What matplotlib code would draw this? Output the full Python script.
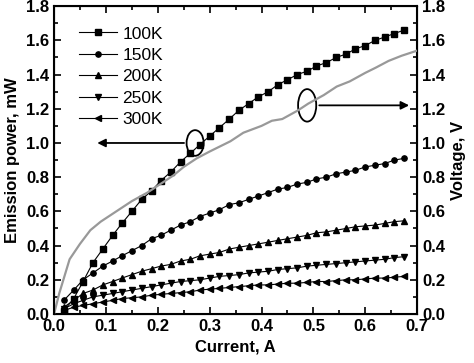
import matplotlib.pyplot as plt
from matplotlib.patches import Ellipse

plt.rcParams['font.family'] = ['Liberation Sans', 'DejaVu Sans']

current = [0.019, 0.038, 0.056, 0.075, 0.094, 0.113, 0.131, 0.150, 0.169, 0.188,
           0.206, 0.225, 0.244, 0.263, 0.281, 0.300, 0.319, 0.338, 0.356, 0.375,
           0.394, 0.413, 0.431, 0.450, 0.469, 0.488, 0.506, 0.525, 0.544, 0.563,
           0.581, 0.600, 0.619, 0.638, 0.656, 0.675]

p100 = [0.02, 0.09, 0.19, 0.30, 0.38, 0.46, 0.53, 0.60, 0.67, 0.72,
        0.78, 0.83, 0.89, 0.94, 0.99, 1.04, 1.09, 1.14, 1.19, 1.23,
        1.27, 1.30, 1.34, 1.37, 1.40, 1.42, 1.45, 1.47, 1.50, 1.52,
        1.55, 1.57, 1.60, 1.62, 1.64, 1.66]
p150 = [0.08, 0.14, 0.20, 0.24, 0.28, 0.31, 0.34, 0.37, 0.40, 0.44,
        0.46, 0.49, 0.52, 0.54, 0.57, 0.59, 0.61, 0.64, 0.65, 0.67,
        0.69, 0.71, 0.73, 0.74, 0.76, 0.77, 0.79, 0.80, 0.82, 0.83,
        0.84, 0.86, 0.87, 0.88, 0.90, 0.91]
p200 = [0.04, 0.08, 0.12, 0.14, 0.17, 0.19, 0.21, 0.23, 0.25, 0.265,
        0.28, 0.29, 0.31, 0.32, 0.34, 0.35, 0.36, 0.38, 0.39, 0.40,
        0.41, 0.42, 0.43, 0.44, 0.45, 0.46, 0.475, 0.48, 0.49, 0.50,
        0.51, 0.515, 0.52, 0.53, 0.54, 0.545]
p250 = [0.03, 0.06, 0.08, 0.10, 0.11, 0.12, 0.13, 0.14, 0.15, 0.16,
        0.17, 0.18, 0.19, 0.195, 0.20, 0.21, 0.22, 0.225, 0.23, 0.24,
        0.245, 0.25, 0.26, 0.265, 0.27, 0.28, 0.285, 0.29, 0.295, 0.30,
        0.305, 0.31, 0.315, 0.32, 0.33, 0.335]
p300 = [0.02, 0.04, 0.05, 0.06, 0.07, 0.08, 0.09, 0.095, 0.10, 0.11,
        0.115, 0.12, 0.125, 0.13, 0.14, 0.145, 0.15, 0.155, 0.16, 0.165,
        0.17, 0.17, 0.175, 0.18, 0.18, 0.185, 0.19, 0.19, 0.195, 0.20,
        0.20, 0.205, 0.21, 0.21, 0.215, 0.22]

current_v = [0.0, 0.01, 0.03, 0.05, 0.07, 0.09, 0.11, 0.13, 0.15, 0.18,
             0.20, 0.23, 0.25, 0.275, 0.30, 0.34, 0.365, 0.40, 0.42, 0.44,
             0.47, 0.49, 0.52, 0.545, 0.57, 0.60, 0.62, 0.645, 0.67, 0.70]
voltage = [0.0, 0.12, 0.32, 0.41, 0.49, 0.54, 0.58, 0.62, 0.66, 0.71,
           0.75, 0.81, 0.86, 0.91, 0.95, 1.01, 1.06, 1.10, 1.13, 1.14,
           1.19, 1.23, 1.28, 1.33, 1.36, 1.41, 1.44, 1.48, 1.51, 1.54]

labels = ['100K', '150K', '200K', '250K', '300K']
markers = ['s', 'o', '^', 'v', '<']

fig = plt.figure(figsize=(4.74, 3.63), dpi=100)
ax = fig.add_axes([0.114, 0.135, 0.766, 0.848])

for ys, m, lab in zip([p100, p150, p200, p250, p300], markers, labels):
    ax.plot(current, ys, color='black', marker=m, markersize=3.8, linewidth=0.8, label=lab)

ax.set_xlim(0, 0.7)
ax.set_ylim(0, 1.8)
ax.set_xticks([0, 0.1, 0.2, 0.3, 0.4, 0.5, 0.6, 0.7])
ax.set_yticks([0, 0.2, 0.4, 0.6, 0.8, 1.0, 1.2, 1.4, 1.6, 1.8])
ax.set_xticks([0.05, 0.15, 0.25, 0.35, 0.45, 0.55, 0.65], minor=True)
ax.set_yticks([0.1, 0.3, 0.5, 0.7, 0.9, 1.1, 1.3, 1.5, 1.7], minor=True)
ax.tick_params(which='both', direction='in', top=True, right=False, width=1.2)
ax.tick_params(which='major', length=5, labelsize=12)
ax.tick_params(which='minor', length=3)
for t in ax.get_xticklabels() + ax.get_yticklabels():
    t.set_fontweight('bold')
ax.set_xlabel('Current, A', fontsize=12, fontweight='bold')
ax.set_ylabel('Emission power, mW', fontsize=12, fontweight='bold')
for s in ax.spines.values():
    s.set_linewidth(1.5)

ax.legend(loc='upper left', frameon=False, fontsize=12.5, handlelength=2.2,
          labelspacing=0.36, handletextpad=0.3, bbox_to_anchor=(0.025, 0.985))

ax2 = ax.twinx()
ax2.plot(current_v, voltage, color='#999999', linewidth=1.6)
ax2.set_ylim(0, 1.8)
ax2.set_yticks([0, 0.2, 0.4, 0.6, 0.8, 1.0, 1.2, 1.4, 1.6, 1.8])
ax2.set_yticks([0.1, 0.3, 0.5, 0.7, 0.9, 1.1, 1.3, 1.5, 1.7], minor=True)
ax2.tick_params(which='both', direction='in', width=1.2)
ax2.tick_params(which='major', length=5, labelsize=12)
ax2.tick_params(which='minor', length=3)
for t in ax2.get_yticklabels():
    t.set_fontweight('bold')
ax2.set_ylabel('Voltage, V', fontsize=12, fontweight='bold')

# ellipses and arrows
ax.add_patch(Ellipse((0.272, 1.0), 0.033, 0.15, fill=False, linewidth=1.3, color='black'))
ax.annotate('', xy=(0.078, 1.0), xytext=(0.256, 1.0),
            arrowprops=dict(arrowstyle='-|>', color='black', lw=1.3, mutation_scale=12))
ax.add_patch(Ellipse((0.488, 1.22), 0.035, 0.19, fill=False, linewidth=1.3, color='black'))
ax.annotate('', xy=(0.69, 1.22), xytext=(0.506, 1.22),
            arrowprops=dict(arrowstyle='-|>', color='black', lw=1.3, mutation_scale=12))

fig.savefig('out.png', dpi=100)
